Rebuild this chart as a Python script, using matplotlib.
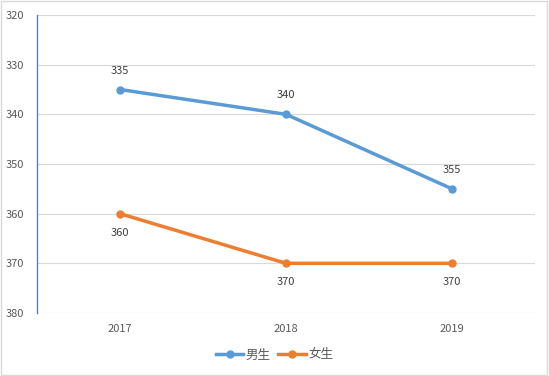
import matplotlib.pyplot as plt
from matplotlib.patches import Rectangle

plt.rcParams['font.family'] = ['Noto Sans CJK SC', 'DejaVu Sans']

years = ['2017', '2018', '2019']
male = [335, 340, 355]
female = [360, 370, 370]
yticks = [320, 330, 340, 350, 360, 370, 380]

fig = plt.figure(figsize=(5.49, 3.76), dpi=100)
ax = fig.add_axes([37 / 549, 63 / 376, 498 / 549, 298 / 376])

x = range(len(years))
ax.plot(x, male, color='#5B9BD5', lw=2.5, marker='o', ms=5, label='男生')
ax.plot(x, female, color='#ED7D31', lw=2.5, marker='o', ms=5, label='女生')

for i, v in enumerate(male):
    ax.annotate(str(v), (i, v), xytext=(0, 10), textcoords='offset points',
                ha='center', va='bottom', fontsize=8, color='#404040')
for i, v in enumerate(female):
    ax.annotate(str(v), (i, v), xytext=(0, -10), textcoords='offset points',
                ha='center', va='top', fontsize=8, color='#404040')

ax.set_xlim(-0.5, 2.5)
ax.set_ylim(380, 320)
ax.set_yticks(yticks)
ax.set_xticks(list(x))
ax.set_xticklabels(years)
ax.tick_params(length=0, labelsize=8, colors='#595959')
ax.tick_params(axis='y', pad=9)
ax.tick_params(axis='x', pad=8)
ax.grid(axis='y', color='#D9D9D9', lw=0.8)
ax.set_axisbelow(True)
for s in ['top', 'right', 'bottom']:
    ax.spines[s].set_visible(False)
ax.spines['left'].set_color('#5B7FC0')
ax.spines['left'].set_linewidth(1.0)

fig.legend(loc='center', bbox_to_anchor=(0.5, 21 / 376), ncol=2, frameon=False,
           fontsize=9, handlelength=2.2, columnspacing=0.6, handletextpad=0.2,
           labelcolor='#595959')

fig.patches.append(Rectangle((0.002, 0.003), 0.995, 0.994, transform=fig.transFigure,
                             fill=False, edgecolor='#D9D9D9', lw=1))

fig.savefig('out.png', dpi=100)
